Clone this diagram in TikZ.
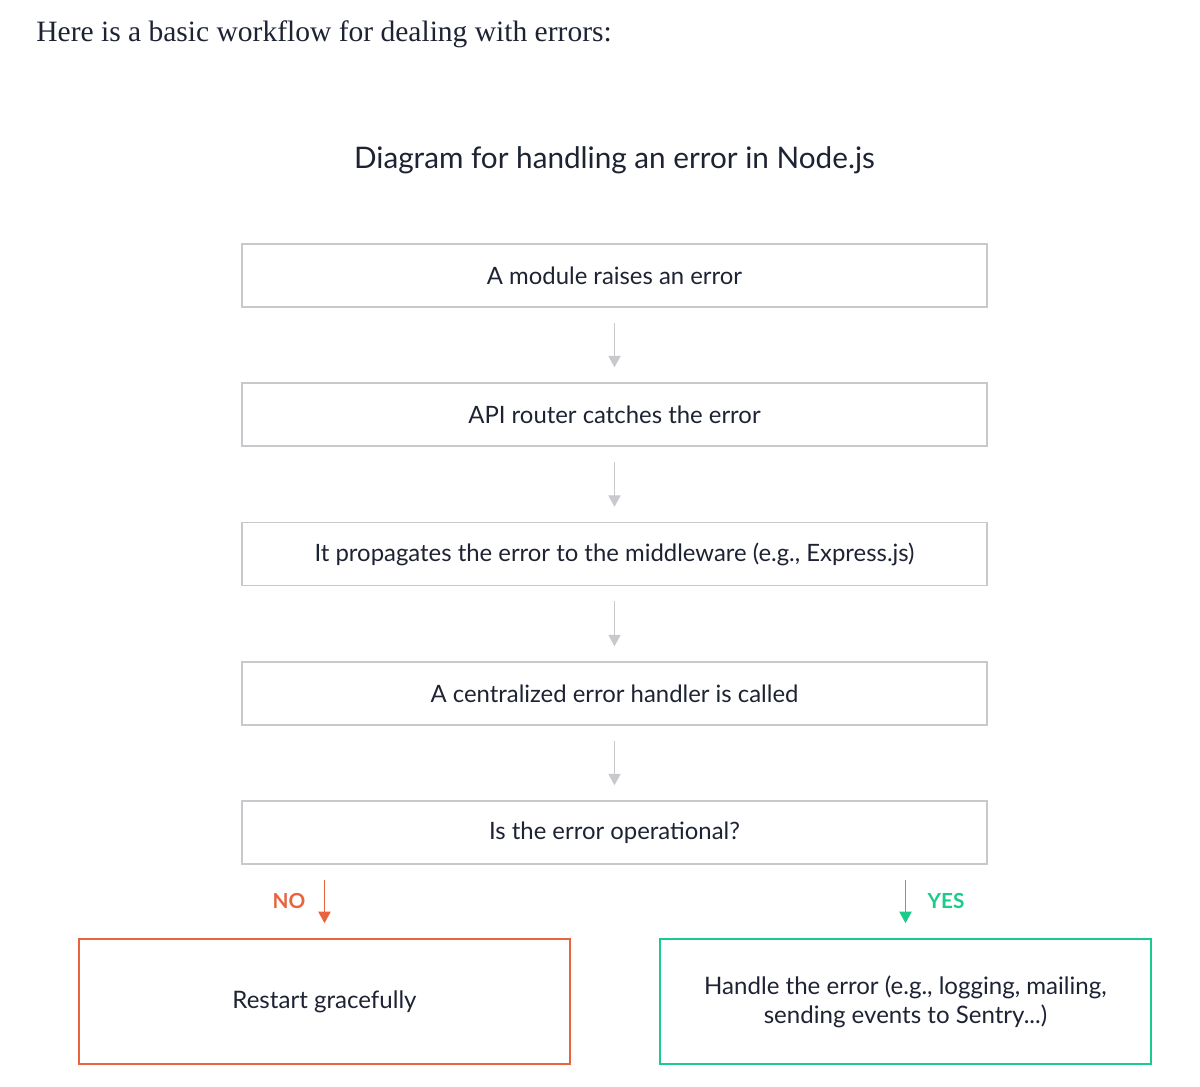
\documentclass[tikz,border=0pt]{standalone}
\usepackage{fontspec}
\setmainfont{Liberation Serif}
\setsansfont{Lato}
\usetikzlibrary{arrows.meta}
\usetikzlibrary{calc}
\definecolor{boxgrey}{HTML}{C8C8CD}
\definecolor{inkdark}{HTML}{1E2333}
\definecolor{noorange}{HTML}{E8643F}
\definecolor{yesgreen}{HTML}{1CCB8C}
\tikzset{
	stepbox/.style={draw=boxgrey, line width=0.9pt, minimum width=14.9cm, minimum height=1.26cm, text=inkdark, font=\sffamily\fontsize{13.6}{16}\selectfont},
	endbox/.style={line width=1pt, minimum width=9.82cm, minimum height=2.5cm, text=inkdark, align=center, font=\sffamily\fontsize{13.7}{16.5}\selectfont},
	flow/.style={draw=boxgrey, line width=0.6pt, -{Triangle[width=7pt,length=6.5pt]}, shorten <=0.3cm, shorten >=0.3cm},
	answer/.style={font=\sffamily\bfseries\fontsize{11.8}{14}\selectfont}
}

\begin{document}
\begin{tikzpicture}[x=0.02cm, y=-0.02cm]
	% page: 1200 x 1087 px, 1 px = 0.02 cm
	\useasboundingbox (0, 0) rectangle (1200, 1087);
	\node[anchor=west, inner sep=0pt, text=inkdark, font=\fontsize{16.8}{20}\selectfont] (intro) at (36, 34) {Here is a basic workflow for dealing with errors:};
	\node[text=inkdark, font=\sffamily\fontsize{16.9}{20}\selectfont] (title) at (614.5, 160.5) {Diagram for handling an error in Node.js};
	
	% main steps
	\node[stepbox] (raise) at (614.5, 275.5) {A module raises an error};
	\node[stepbox] (catch) at (614.5, 414.5) {API router catches the error};
	\node[stepbox] (propagate) at (614.5, 554) {It propagates the error to the middleware (e.g., Express.js)};
	\node[stepbox] (handler) at (614.5, 693.5) {A centralized error handler is called};
	\node[stepbox] (operational) at (614.5, 832.5) {Is the error operational?};
	
	\draw[flow] (raise) -- (catch);
	\draw[flow] (catch) -- (propagate);
	\draw[flow] (propagate) -- (handler);
	\draw[flow] (handler) -- (operational);
	
	% outcomes
	\node[endbox, draw=noorange] (restart) at (324.5, 1001.5) {Restart gracefully};
	\node[endbox, draw=yesgreen] (handle) at (905.5, 1001.5) {Handle the error (e.g., logging, mailing,\\sending events to Sentry...)};
	
	\draw[flow, draw=noorange, fill=noorange] (operational.south -| restart.north) -- (restart.north);
	\draw[flow, draw=yesgreen, fill=yesgreen] (operational.south -| handle.north) -- (handle.north);
	
	\node[answer, text=noorange] (no) at (289, 901) {NO};
	\node[answer, text=yesgreen] (yes) at (946, 901) {YES};
\end{tikzpicture}
\end{document}
